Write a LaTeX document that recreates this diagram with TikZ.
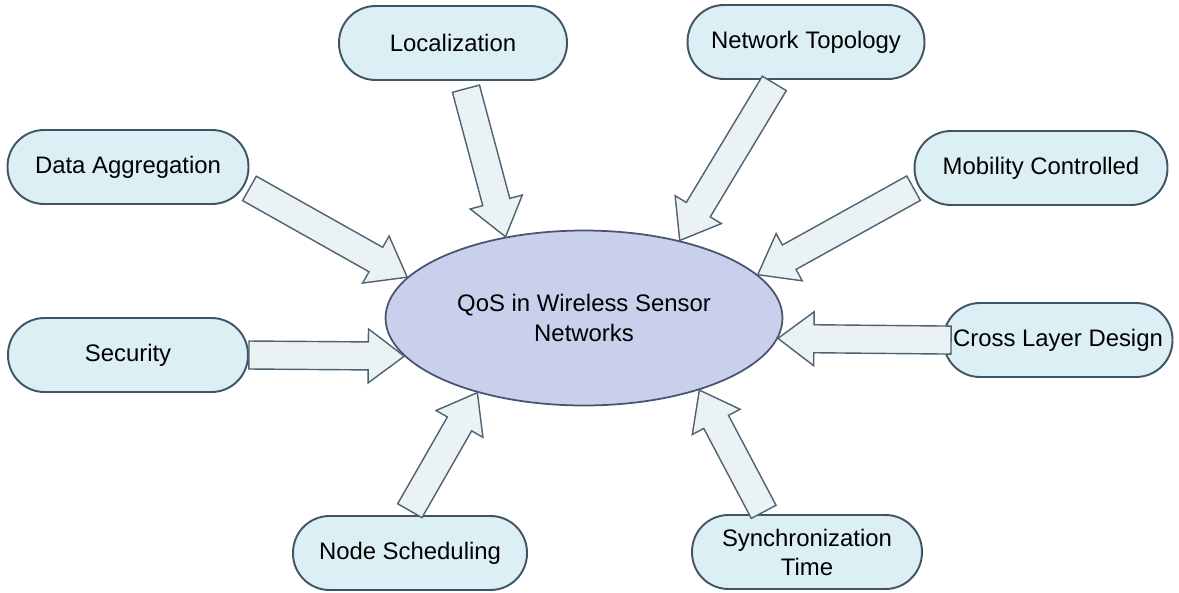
\documentclass[tikz,border=0pt]{standalone}
\usepackage{fontspec}
\setmainfont{Liberation Sans}
\usepackage{xcolor}
\usetikzlibrary{shapes.geometric,calc}

\definecolor{boxfill}{RGB}{220,239,244}
\definecolor{boxline}{RGB}{64,84,102}
\definecolor{qosfill}{RGB}{202,207,236}
\definecolor{qosline}{RGB}{70,86,112}
\definecolor{arrowfill}{RGB}{234,242,244}
\definecolor{arrowline}{RGB}{78,98,114}

% hollow block arrow from #2 to #3, start moved #1 towards the target
\newcommand{\blockarrow}[3][0pt]{%
  \coordinate (ba-s) at ($(#2)!#1!(#3)$);
  \coordinate (ba-t) at (#3);
  \coordinate (ba-n) at ($(ba-t)!0.72cm!(ba-s)$);
  \filldraw[fatarrow] ($(ba-s)!0.28cm!90:(ba-t)$) -- ($(ba-n)!0.28cm!90:(ba-t)$)
    -- ($(ba-n)!0.54cm!90:(ba-t)$) -- (ba-t) -- ($(ba-n)!0.54cm!-90:(ba-t)$)
    -- ($(ba-n)!0.28cm!-90:(ba-t)$) -- ($(ba-s)!0.28cm!-90:(ba-t)$) -- cycle;}

\begin{document}
\begin{tikzpicture}[x=0.02cm, y=-0.02cm,
    topic/.style={rectangle, rounded corners=0.73cm, draw=boxline, line width=1.1pt,
      fill=boxfill, minimum height=1.48cm, inner sep=2pt, align=center,
      font=\fontsize{13.6}{16.5}\selectfont},
    core/.style={ellipse, draw=qosline, line width=1pt, fill=qosfill, inner sep=0pt,
      minimum width=7.94cm, minimum height=3.5cm, align=center,
      font=\fontsize{13.6}{17}\selectfont},
    fatarrow/.style={fill=arrowfill, draw=arrowline, line width=0.8pt, line join=miter}]
        \useasboundingbox (0,0) rectangle (1179,592);

        % Central topic
        \node[core] (qos) at (584,318) {QoS in Wireless Sensor\\Networks};

        % Surrounding topics
        \node[topic, minimum width=4.56cm] (loc) at (453,43) {Localization};
        \node[topic, minimum width=4.74cm] (topo) at (806,42) {Network Topology};
        \node[topic, minimum width=4.82cm] (aggr) at (128,167) {Data Aggregation};
        \node[topic, minimum width=5.06cm] (mob) at (1041,168) {Mobility Controlled};
        \node[topic, minimum width=4.8cm] (sec) at (128,355) {Security};
        \node[topic, minimum width=4.58cm] (cross) at (1058,340) {Cross Layer Design};
        \node[topic, minimum width=4.68cm] (sched) at (410,553) {Node Scheduling};
        \node[topic, minimum width=4.6cm] (sync) at (807,552) {Synchronization\\Time};

        % Arrows into the centre
        \blockarrow[0.16cm]{loc.-74}{qos.134}
        \blockarrow[0.08cm]{topo.-128}{qos.39}
        \blockarrow{aggr.-10.7}{qos.167}
        \blockarrow{mob.-171}{qos.14.5}
        \blockarrow[-0.17cm]{cross.west}{qos.-6.5}
        \blockarrow{sec.east}{qos.-168.4}
        \blockarrow[0.1cm]{sched.94}{qos.-145.8}
        \blockarrow[0.05cm]{sync.138.5}{qos.-32.7}
    \end{tikzpicture}
\end{document}
